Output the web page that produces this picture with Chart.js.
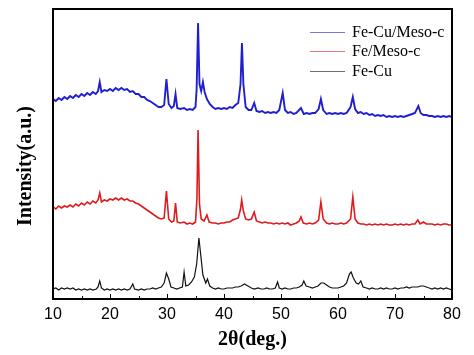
<!DOCTYPE html>
<html>
<head>
<meta charset="utf-8">
<script src="https://cdn.jsdelivr.net/npm/chart.js@4"></script>
<style>
html,body{margin:0;padding:0;background:#fff;}
#c{display:block;}
</style>
</head>
<body>
<canvas id="c" width="474" height="355"></canvas>
<script>
// ---- data (2θ in degrees, intensity in arbitrary offset units) ----
const seriesNames = ["Fe-Cu/Meso-c", "Fe/Meso-c", "Fe-Cu"];
const seriesColors = ["#1f1fd0", "#e01b1b", "#111111"];
const xTickValues = [10, 20, 30, 40, 50, 60, 70, 80];

const feCuMesoTheta = [10,10.5,11,11.5,12,12.5,13,13.5,14,14.5,15,15.5,16,16.5,17,17.5,17.9,18.2,18.5,19,19.5,20,20.5,21,21.5,22,22.5,23,23.5,24,24.5,25,25.5,26,26.5,27,27.5,28,28.5,29,29.5,29.9,30.3,30.8,31.2,31.5,31.8,32.3,33,33.5,34,34.5,35,35.2,35.45,35.7,36,36.3,36.6,37,37.5,38,38.5,39,39.5,40,40.5,41,41.5,42,42.5,42.9,43.15,43.4,43.8,44.3,44.8,45.3,45.7,46.2,46.7,47.2,47.7,48.2,48.7,49.2,49.7,50.3,50.7,51.2,51.7,52.2,52.7,53.5,54,54.5,55,55.5,56,56.6,57,57.4,58,58.5,59,59.5,60,60.5,61,61.5,62.2,62.6,63,63.5,64,64.5,65,65.5,66,66.5,67,67.5,68,68.5,69,69.5,70,70.5,71,71.5,72,72.5,73,73.5,74.1,74.5,75,75.5,76,76.5,77,77.5,78,78.5,79,79.5,80];
const feCuMesoI = [200,198,201,199,202,200,203,201,204,202,205,203,206,204,207,205,208,217,207,209,208,210,208,211,209,211,209,210,207,208,205,205,202,202,199,198,196,194,192,192,194,220,195,191,193,205,191,190,191,189,190,189,192,210,276,215,208,217,207,200,195,192,190,191,190,191,190,192,191,194,196,215,256,215,192,189,189,196,188,187,188,186,187,186,187,186,189,206,189,186,187,185,186,191,185,186,185,186,186,190,200,189,185,186,185,186,185,186,185,186,192,202,190,186,187,185,186,184,185,183,184,183,184,182,183,182,183,182,183,182,183,184,185,186,193,186,184,184,183,183,182,183,182,183,182,183,182];

const feMesoTheta = [10,10.5,11,11.5,12,12.5,13,13.5,14,14.5,15,15.5,16,16.5,17,17.5,17.9,18.2,18.5,19,19.5,20,20.5,21,21.5,22,22.5,23,23.5,24,24.5,25,25.5,26,26.5,27,27.5,28,28.5,29,29.5,29.9,30.3,30.8,31.2,31.5,31.8,32.3,33,33.5,34,34.5,35,35.25,35.45,35.7,36,36.5,37,37.4,38,38.5,39,39.5,40,40.5,41,41.5,42,42.5,42.9,43.1,43.4,43.8,44.3,44.8,45.3,45.7,46.2,46.7,47.2,47.7,48.2,48.7,49.2,49.7,50.2,50.7,51.2,51.7,52.2,52.7,53.2,53.5,53.9,54.5,55,55.5,56,56.6,57,57.4,58,58.5,59,59.5,60,60.5,61,61.5,62.2,62.6,63,63.5,64,64.5,65,65.5,66,66.5,67,67.5,68,68.5,69,69.5,70,70.5,71,71.5,72,72.5,73,73.5,74,74.4,75,75.5,76,76.5,77,77.5,78,78.5,79,79.5,80];
const feMesoI = [92,90,93,91,93,92,94,92,95,93,96,94,97,95,98,96,99,106,97,99,98,100,99,101,99,101,99,100,98,98,96,95,93,91,89,87,85,83,81,80,81,108,80,77,78,96,77,76,77,75,76,75,77,100,169,95,80,78,84,77,76,76,75,76,76,77,77,79,80,81,90,99,88,80,79,80,87,78,77,76,77,76,76,75,76,75,76,75,76,74,75,76,78,82,76,75,76,75,76,79,97,80,76,75,76,75,75,76,75,76,80,102,80,76,75,75,74,75,74,75,74,75,74,75,74,74,75,74,75,74,75,74,75,75,79,75,77,75,75,75,74,75,74,75,75,74,74];

const feCuTheta = [10,10.5,11,11.5,12,12.5,13,13.5,14,14.5,15,15.5,16,16.5,17,17.6,17.9,18.2,18.5,19,19.5,20,20.5,21,21.5,22,22.5,23,23.5,24,24.3,25,25.5,26,26.5,27,27.5,28,28.5,29,29.5,29.9,30.3,30.7,31.2,31.7,32.2,32.7,33,33.3,33.8,34.3,34.8,35.2,35.6,35.9,36.3,36.8,37.1,37.5,38,38.5,39,39.5,40,40.5,41,41.5,42,42.5,43,43.6,44.2,44.8,45.3,46,46.5,47,47.5,48,48.5,49,49.4,49.7,50.2,50.7,51.2,51.7,52.2,52.7,53.2,53.7,54,54.4,55,55.5,56,56.5,57,57.5,58,58.5,59,59.5,60,60.5,61,61.5,62,62.3,62.7,63.2,63.6,64,64.4,65,65.5,66,66.5,67,67.5,68,68.5,69,69.5,70,70.5,71,71.5,72,72.5,73,73.5,74,74.5,75,75.5,76,76.5,77,77.5,78,78.5,79,79.5,80];
const feCuI = [10,11,9,11,10,11,10,11,9,10,9,10,9,10,9,10,12,18,11,9,10,9,10,9,10,9,10,9,10,15,10,9,10,9,10,10,11,10,11,12,16,26,20,12,11,10,11,12,27,13,14,17,22,35,61,45,24,16,20,13,11,10,11,10,10,11,11,11,12,12,13,15,13,11,10,11,10,10,11,10,10,11,17,11,10,11,10,10,11,11,12,14,18,13,12,11,12,13,16,16,14,12,11,11,11,12,13,16,25,27,21,16,15,18,12,11,10,11,10,10,11,10,11,10,10,11,10,11,11,12,11,12,12,12,13,13,12,11,10,11,10,11,10,11,10,9];

function pts(xs, ys) { return xs.map((x, i) => ({ x: x, y: ys[i] })); }

const frameAndTicks = {
  id: 'frameAndTicks',
  afterDraw(chart) {
    const { ctx, chartArea: a, scales } = chart;
    const xs = scales.x;
    ctx.save();
    ctx.strokeStyle = '#000';
    ctx.lineWidth = 1;
    for (let v = 10; v <= 80; v += 5) {
      const px = Math.round(xs.getPixelForValue(v)) + 0.5;
      const len = (v % 10 === 0) ? 5 : 3;
      ctx.beginPath();
      ctx.moveTo(px, a.bottom);
      ctx.lineTo(px, a.bottom - len);
      ctx.stroke();
    }
    ctx.lineWidth = 2;
    ctx.strokeRect(a.left, a.top, a.right - a.left, a.bottom - a.top);
    // legend
    ctx.font = '16px "Liberation Serif", "Times New Roman", serif';
    ctx.textBaseline = 'middle';
    ctx.textAlign = 'left';
    const rows = [31.5, 51, 71];
    chart.data.datasets.forEach((ds, i) => {
      const y = Math.round(rows[i]) + 0.5;
      ctx.strokeStyle = ds.borderColor;
      ctx.globalAlpha = 0.6;
      ctx.lineWidth = 1;
      ctx.beginPath();
      ctx.moveTo(310, y);
      ctx.lineTo(345, y);
      ctx.stroke();
      ctx.globalAlpha = 1;
      ctx.fillStyle = '#000';
      ctx.fillText(ds.label, 352, rows[i] + 1);
    });
    // y axis title
    ctx.font = 'bold 20px "Liberation Serif", "Times New Roman", serif';
    ctx.textAlign = 'center';
    ctx.translate(26, 166);
    ctx.rotate(-Math.PI / 2);
    ctx.fillText('Intensity(a.u.)', 0, 0);
    ctx.restore();
  }
};

new Chart(document.getElementById('c'), {
  type: 'line',
  data: {
    datasets: [
      { label: seriesNames[0], data: pts(feCuMesoTheta, feCuMesoI), borderColor: seriesColors[0], borderWidth: 1.9 },
      { label: seriesNames[1], data: pts(feMesoTheta, feMesoI), borderColor: seriesColors[1], borderWidth: 1.6 },
      { label: seriesNames[2], data: pts(feCuTheta, feCuI), borderColor: seriesColors[2], borderWidth: 1.2 }
    ]
  },
  options: {
    responsive: false,
    animation: false,
    devicePixelRatio: 1,
    layout: { padding: { left: 0, right: 22, top: 9, bottom: 0 } },
    elements: { point: { radius: 0 }, line: { tension: 0 } },
    plugins: { legend: { display: false }, tooltip: { enabled: false } },
    scales: {
      x: {
        type: 'linear', min: 10, max: 80,
        afterBuildTicks: (s) => { s.ticks = xTickValues.map(v => ({ value: v })); },
        grid: { display: false, drawTicks: false },
        border: { display: false },
        ticks: { color: '#000', padding: 6, font: { family: '"Liberation Sans", Arial, sans-serif', size: 16 } },
        title: { display: true, text: '2θ(deg.)', color: '#000', padding: { top: 0, bottom: 3 },
                 font: { family: '"Liberation Serif", "Times New Roman", serif', size: 20, weight: 'bold' } },
        afterFit: (s) => { s.height = 56; }
      },
      y: {
        min: 0, max: 290,
        ticks: { display: false },
        grid: { display: false, drawTicks: false },
        border: { display: false },
        afterFit: (s) => { s.width = 53; }
      }
    }
  },
  plugins: [frameAndTicks]
});
</script>
</body>
</html>
